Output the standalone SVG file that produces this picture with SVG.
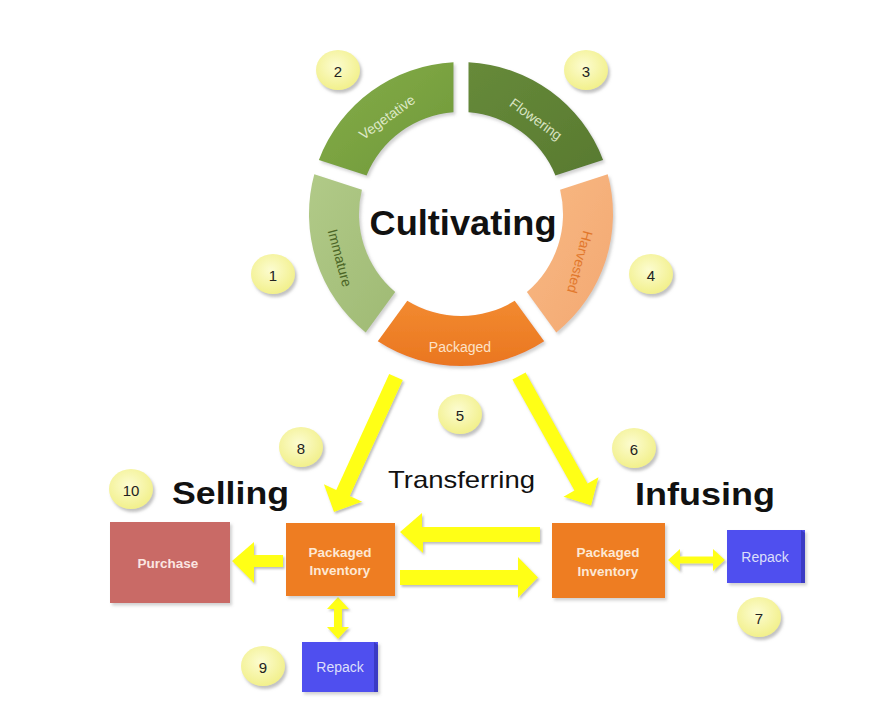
<svg xmlns="http://www.w3.org/2000/svg" width="892" height="701" viewBox="0 0 892 701">
<defs>
<style>
.lbl{font-family:"Liberation Sans",Arial,sans-serif;font-size:14px;text-anchor:middle;dominant-baseline:central}
.num{font-family:"Liberation Sans",Arial,sans-serif;font-size:15px;fill:#222;text-anchor:middle;dominant-baseline:central}
.title{font-family:"Liberation Sans",Arial,sans-serif;font-weight:bold;fill:#111;lengthAdjust:spacingAndGlyphs}
.box{font-family:"Liberation Sans",Arial,sans-serif;font-size:13.5px;font-weight:bold;text-anchor:middle}
.arrow{fill:#ffff14;filter:url(#ash)}
.badge{fill:url(#bg);filter:url(#bsh)}
</style>
<radialGradient id="bg" cx="45%" cy="40%" r="60%">
<stop offset="0" stop-color="#fcfcd0"/>
<stop offset="1" stop-color="#f2f08c"/>
</radialGradient>
<linearGradient id="gVeg" x1="0" y1="0" x2="1" y2="1"><stop offset="0" stop-color="#85ad4a"/><stop offset="1" stop-color="#6f9838"/></linearGradient>
<linearGradient id="gFlo" x1="0" y1="0" x2="1" y2="1"><stop offset="0" stop-color="#678a3a"/><stop offset="1" stop-color="#587a30"/></linearGradient>
<linearGradient id="gImm" x1="0" y1="0" x2="1" y2="1"><stop offset="0" stop-color="#b1ca88"/><stop offset="1" stop-color="#9fba74"/></linearGradient>
<linearGradient id="gHar" x1="0" y1="0" x2="1" y2="1"><stop offset="0" stop-color="#f8b983"/><stop offset="1" stop-color="#f3a872"/></linearGradient>
<linearGradient id="gPac" x1="0" y1="0" x2="0" y2="1"><stop offset="0" stop-color="#f28a30"/><stop offset="1" stop-color="#ea7620"/></linearGradient>
<filter id="ash" x="-20%" y="-20%" width="150%" height="150%">
<feDropShadow dx="1.5" dy="2" stdDeviation="1" flood-color="#888" flood-opacity="0.55"/>
</filter>
<filter id="bsh" x="-30%" y="-30%" width="170%" height="170%">
<feDropShadow dx="2" dy="3" stdDeviation="1.5" flood-color="#999" flood-opacity="0.6"/>
</filter>
<filter id="ssh" x="-10%" y="-10%" width="130%" height="130%">
<feDropShadow dx="2" dy="2.5" stdDeviation="1.5" flood-color="#999" flood-opacity="0.45"/>
</filter>
</defs>
<rect width="892" height="701" fill="#ffffff"/>

<g id="ring">
<g id="seg-flowering">
<path d="M468.5 62.2 A152 152 0 0 1 603.1 159.9 L555.4 175.4 A102 102 0 0 0 468.5 112.3 Z" fill="url(#gFlo)" filter="url(#ssh)"/>
<text class="lbl" x="536" y="119" fill="#d8e3c2" transform="rotate(36 536 119)">Flowering</text>
</g>
<g id="seg-harvested">
<path d="M607.7 174.2 A152 152 0 0 1 556.3 332.4 L526.9 291.9 A102 102 0 0 0 560.1 189.7 Z" fill="url(#gHar)" filter="url(#ssh)"/>
<text class="lbl" x="580" y="262" fill="#e2782c" transform="rotate(105 580 262)">Harvested</text>
</g>
<g id="seg-packaged">
<path d="M544.2 341.2 A152 152 0 0 1 377.8 341.2 L407.3 300.7 A102 102 0 0 0 514.7 300.7 Z" fill="url(#gPac)" filter="url(#ssh)"/>
<text class="lbl" x="460" y="347" fill="#fde2c8">Packaged</text>
</g>
<g id="seg-immature">
<path d="M365.7 332.4 A152 152 0 0 1 314.3 174.2 L361.9 189.7 A102 102 0 0 0 395.2 291.9 Z" fill="url(#gImm)" filter="url(#ssh)"/>
<text class="lbl" x="340" y="258" fill="#4c6626" transform="rotate(75 340 258)">Immature</text>
</g>
<g id="seg-vegetative">
<path d="M318.9 159.9 A152 152 0 0 1 453.5 62.2 L453.5 112.3 A102 102 0 0 0 366.6 175.4 Z" fill="url(#gVeg)" filter="url(#ssh)"/>
<text class="lbl" x="387" y="117" fill="#dde8c6" transform="rotate(-36 387 117)">Vegetative</text>
</g>
<text class="title" x="463" y="235" font-size="35" text-anchor="middle" textLength="187" lengthAdjust="spacingAndGlyphs">Cultivating</text>
</g>

<g id="titles">
<text class="title" x="461.5" y="488" font-size="24" font-weight="normal" text-anchor="middle" textLength="147" lengthAdjust="spacingAndGlyphs" style="font-weight:normal">Transferring</text>
<text class="title" x="172" y="504" font-size="31" textLength="117" lengthAdjust="spacingAndGlyphs">Selling</text>
<text class="title" x="635" y="505" font-size="31" textLength="140" lengthAdjust="spacingAndGlyphs">Infusing</text>
</g>

<g id="connectors">
<polygon class="arrow" points="389.2,373.9 402.8,380.1 349.8,496.1 362.1,501.7 334,512 323.9,484.3 336.2,489.9"/>
<polygon class="arrow" points="525.6,372.4 587.6,483.4 598.5,477.3 591.1,505.4 563.5,496.7 574.4,490.6 512.4,379.6"/>
<polygon class="arrow" points="540,527 422,527 422,513 400,532 423,553 423,542 540,542"/>
<polygon class="arrow" points="400,570 518,570 518,557 538,577.5 518,598 518,585 400,585"/>
<polygon class="arrow" points="283,555 254,555 254,542 232,561 254,583 254,567 283,567"/>
<polygon class="arrow" points="338,597 349,609 342,609 342,627 349,627 338,639 327,627 334,627 334,609 327,609"/>
<polygon class="arrow" points="668,560 680,549 680,556.5 713,556.5 713,549 725,560 713,571 713,563.5 680,563.5 680,571"/>
</g>

<g id="node-purchase">
<rect x="110" y="522" width="120" height="81" fill="#c96a66" filter="url(#ssh)"/>
<text class="box" x="168" y="568" fill="#fbe6e2">Purchase</text>
</g>
<g id="node-inv-left">
<rect x="286" y="523" width="109" height="73" fill="#ee7d22" filter="url(#ssh)"/>
<text class="box" x="340" y="557" fill="#fde8d4">Packaged</text>
<text class="box" x="340" y="575" fill="#fde8d4">Inventory</text>
</g>
<g id="node-inv-right">
<rect x="552" y="523" width="113" height="75" fill="#ee7d22" filter="url(#ssh)"/>
<text class="box" x="608" y="557" fill="#fde8d4">Packaged</text>
<text class="box" x="608" y="576" fill="#fde8d4">Inventory</text>
</g>
<g id="node-repack-bottom">
<rect x="302" y="642" width="76" height="50" fill="#5050ef" filter="url(#ssh)"/>
<polygon points="374,642 378,645 378,692 374,692" fill="#3a3ac4"/>
<text x="340" y="672" font-family="Liberation Sans, Arial, sans-serif" font-size="14" fill="#dcdffa" text-anchor="middle">Repack</text>
</g>
<g id="node-repack-right">
<rect x="727" y="530" width="78" height="53" fill="#5050ef" filter="url(#ssh)"/>
<polygon points="801,530 805,533 805,583 801,583" fill="#3a3ac4"/>
<text x="765" y="562" font-family="Liberation Sans, Arial, sans-serif" font-size="14" fill="#dcdffa" text-anchor="middle">Repack</text>
</g>

<g id="badges">
<g id="b1"><ellipse class="badge" cx="273" cy="274" rx="22" ry="20"/><text class="num" x="273" y="275">1</text></g>
<g id="b2"><ellipse class="badge" cx="338" cy="70" rx="22" ry="20"/><text class="num" x="338" y="71">2</text></g>
<g id="b3"><ellipse class="badge" cx="586" cy="70" rx="22" ry="20"/><text class="num" x="586" y="71">3</text></g>
<g id="b4"><ellipse class="badge" cx="651" cy="274" rx="22" ry="20"/><text class="num" x="651" y="275">4</text></g>
<g id="b5"><ellipse class="badge" cx="460" cy="414" rx="22" ry="20"/><text class="num" x="460" y="415">5</text></g>
<g id="b6"><ellipse class="badge" cx="634" cy="448" rx="22" ry="20"/><text class="num" x="634" y="449">6</text></g>
<g id="b7"><ellipse class="badge" cx="759" cy="617" rx="22" ry="20"/><text class="num" x="759" y="618">7</text></g>
<g id="b8"><ellipse class="badge" cx="301" cy="447" rx="22" ry="20"/><text class="num" x="301" y="448">8</text></g>
<g id="b9"><ellipse class="badge" cx="263" cy="666" rx="22" ry="20"/><text class="num" x="263" y="667">9</text></g>
<g id="b10"><ellipse class="badge" cx="131" cy="489" rx="22" ry="20"/><text class="num" x="131" y="490" font-size="13">10</text></g>
</g>
</svg>
